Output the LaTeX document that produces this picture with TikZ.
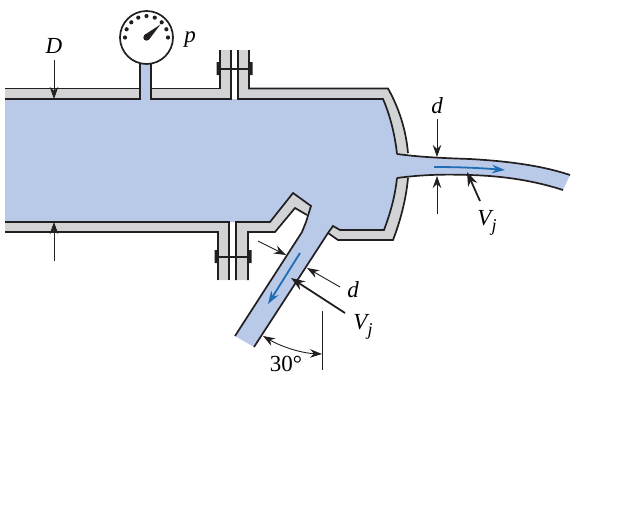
\documentclass[tikz,border=0pt]{standalone}
\usepackage{fontspec}
\setmainfont{Liberation Serif}
\usetikzlibrary{arrows.meta}

\definecolor{wallgray}{HTML}{D2D3D5}
\definecolor{waterblue}{HTML}{B9C9E8}
\definecolor{flowblue}{HTML}{1F6DB5}
\definecolor{inkblack}{HTML}{231F20}

\newcommand{\velj}{V\raisebox{-6pt}{\fontsize{18}{18}\selectfont\itshape j}}

\tikzset{
	wall/.style={draw=inkblack, line width=1.7pt, line join=miter},
	dimline/.style={draw=inkblack, line width=0.9pt, -{Stealth[length=12pt,width=8.5pt]}},
	jetline/.style={draw=inkblack, line width=1.8pt, -{Stealth[length=14pt,width=10pt]}},
	flowline/.style={draw=flowblue, line width=1.8pt, -{Stealth[length=13pt,width=8.5pt]}},
	label/.style={inner sep=0pt, font=\fontsize{23}{23}\selectfont\itshape}
}

\begin{document}
\begin{tikzpicture}[x=1pt, y=-1pt]
\useasboundingbox (0,0) rectangle (640,512);

% Draws the gray walls of the pipe
\fill [wallgray] (5,88.5) -- (220,88.5) -- (220,50) -- (231,50) -- (231,99) -- (5,99) -- cycle;
\fill [wallgray] (238,50) -- (249,50) -- (249,88.5) -- (388,88.5)
	.. controls (399,108) and (406,130) .. (408,153) -- (408,178)
	.. controls (406,200) and (400,222) .. (393,240) -- (338,240) -- (328,233) -- (307,215)
	-- (295,208) -- (275,232) -- (248,232) -- (248,280) -- (236,280) -- (236,222) -- (238,99) -- cycle;
\fill [wallgray] (5,222) -- (229,222) -- (229,280) -- (218,280) -- (218,232) -- (5,232) -- cycle;
\fill [wallgray] (270,222) -- (293,193) -- (311,206) -- (307,215) -- (295,208) -- (275,232) -- cycle;

% Draws the water inside the pipe, the gauge stem and both jets
\fill [waterblue] (5,99) -- (140,99) -- (140,63) -- (151,63) -- (151,99) -- (383,99)
	.. controls (390,115) and (395,135) .. (397,154)
	.. controls (420,157) and (440,158) .. (470,159) .. controls (505,161) and (540,165) .. (570,175)
	-- (563,190) .. controls (535,181) and (505,176) .. (470,175)
	.. controls (440,174) and (420,175) .. (397,178)
	.. controls (395,197) and (390,214) .. (384,230) -- (340,230) -- (333,226) -- (328,233)
	-- (254,347) -- (235,336) -- (302,232) -- (306,222) -- (311,206) -- (293,193) -- (270,222) -- (5,222) -- cycle;

% Draws the outlines of the walls
\draw [wall] (5,88.5) -- (140,88.5) (151,88.5) -- (220,88.5) -- (220,50);
\draw [wall] (5,99) -- (140,99) -- (140,63) (151,63) -- (151,99) -- (231,99) -- (231,50);
\draw [wall] (238,50) -- (238,99) -- (383,99) .. controls (390,115) and (395,135) .. (397,154);
\draw [wall] (249,50) -- (249,88.5) -- (388,88.5) .. controls (399,108) and (406,130) .. (408,153);
\draw [wall] (397,154) .. controls (420,157) and (440,158) .. (470,159) .. controls (505,161) and (540,165) .. (570,175);
\draw [wall] (397,178) .. controls (420,175) and (440,174) .. (470,175) .. controls (505,176) and (535,181) .. (563,190);
\draw [wall] (397,178) .. controls (395,197) and (390,214) .. (384,230) -- (340,230) -- (333,226) -- (328,233) -- (254,347);
\draw [wall] (408,178) .. controls (406,200) and (400,222) .. (393,240) -- (338,240) -- (328,233);
\draw [wall] (5,222) -- (229,222) -- (229,280);
\draw [wall] (236,280) -- (236,222) -- (270,222) -- (293,193) -- (311,206) -- (306,222) -- (302,232) -- (235,336);
\draw [wall] (5,232) -- (218,232) -- (218,280);
\draw [wall] (248,280) -- (248,232) -- (275,232) -- (295,208) -- (307,215);

% Draws the two flange bolts
\draw [draw=inkblack, line width=2.2pt] (219,69) -- (250,69);
\fill [inkblack] (216.5,62) rectangle (220.5,75) (248.5,62) rectangle (252.5,75);
\draw [draw=inkblack, line width=2.2pt] (217,257) -- (249,257);
\fill [inkblack] (214.5,250) rectangle (218.5,263) (247.5,250) rectangle (251.5,263);

% Draws the pressure gauge with its dial dots and needle
\coordinate (gauge) at (146.5,37.5);
\draw [fill=white, draw=inkblack, line width=1.7pt] (gauge) circle (26.5pt);
\foreach \a in {0,22.5,...,180}
	\fill [inkblack] ([shift={(gauge)}]-\a:21.5) circle (2.1pt);
\fill [inkblack] (gauge) circle (3.2pt);
\fill [inkblack] (144.3,35) -- (160.5,24.5) -- (148.8,39.8) -- cycle;

% Writes out the labels
\node [label] (dlabel) at (54,46) {D};
\node [label] (plabel) at (190,40) {p};
\node [label] (dtop) at (437,106) {d};
\node [label] (vtop) at (487,223) {\velj};
\node [label] (dbottom) at (353,290) {d};
\node [label] (vbottom) at (363,327) {\velj};
\node [inner sep=0pt, font=\fontsize{23}{23}\selectfont] (angle) at (286,364) {30°};

% Draws the dimension arrows
\coordinate (dtopa) at (54,60);
\coordinate (dtopb) at (54,99);
\coordinate (dbota) at (54,261);
\coordinate (dbotb) at (54,222);
\draw [dimline] (dtopa) -- (dtopb);
\draw [dimline] (dbota) -- (dbotb);
\draw [dimline] (437,119) -- (437,157);
\draw [dimline] (437,214) -- (437,176);
\draw [dimline] (258,241) -- (286,255);
\draw [dimline] (340,287) -- (307,268);

% Draws the jet velocity arrows
\draw [jetline] (480,201) -- (467,172);
\draw [jetline] (345,313) -- (291,278);
\draw [flowline] (434,167) .. controls (460,167) and (480,168) .. (505,170);
\draw [flowline] (300,253) -- (268,304);

% Draws the 30 degree angle
\draw [draw=inkblack, line width=0.9pt] (322,311) -- (322,370);
\draw [dimline, {Stealth[length=12pt,width=8.5pt]}-{Stealth[length=12pt,width=8.5pt]}] (263,336) .. controls (280,346) and (300,353) .. (322,354);

\end{tikzpicture}
\end{document}
